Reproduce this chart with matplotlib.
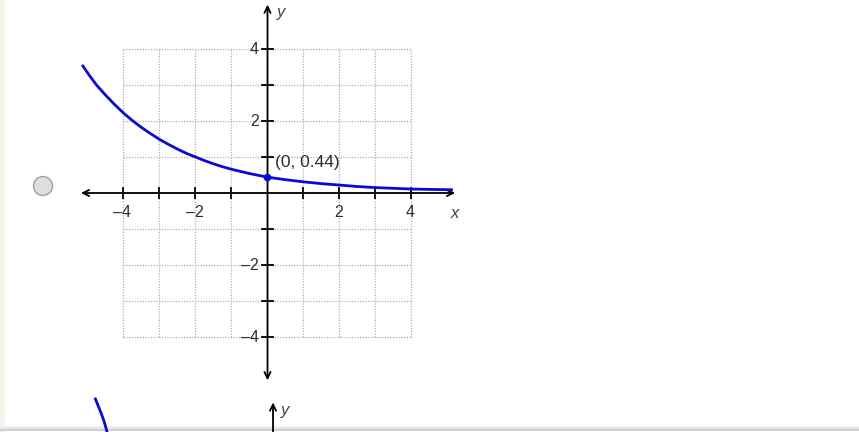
import matplotlib
matplotlib.use("Agg")
import matplotlib.pyplot as plt
from matplotlib.patches import Circle, Rectangle

# curve values
curve_x = [-5.15, -4.95, -4.75, -4.5, -4.25, -4.0, -3.75, -3.5, -3.25, -3.0, -2.75,
           -2.5, -2.25, -2.0, -1.75, -1.5, -1.25, -1.0, -0.5, 0.0,
           0.5, 1.0, 1.5, 2.0, 2.5, 3.0, 3.5, 4.0, 4.5, 5.15]
curve_y = [3.56, 3.27, 3.0, 2.72, 2.46, 2.22, 2.01, 1.82, 1.65, 1.49, 1.35,
           1.22, 1.10, 1.0, 0.90, 0.81, 0.73, 0.66, 0.54, 0.44,
           0.37, 0.31, 0.26, 0.22, 0.18, 0.15, 0.13, 0.11, 0.10, 0.09]
point = (0, 0.44)
point_label = "(0, 0.44)"
tick_vals = [-4, -3, -2, -1, 1, 2, 3, 4]
labelled = [-4, -2, 2, 4]

# piece of the next answer's graph showing at the bottom edge
next_curve_x = [-4.78, -4.70, -4.62, -4.54, -4.45]
next_curve_y = [-5.72, -5.92, -6.12, -6.34, -6.66]

UNIT = 36.0      # pixels per unit
OX, OY = 267.5, 193.0
W, H = 859, 432

fig = plt.figure(figsize=(W / 100, H / 100), dpi=100)
ax = fig.add_axes([0, 0, 1, 1])
ax.set_xlim(-OX / UNIT, (W - OX) / UNIT)
ax.set_ylim((OY - H) / UNIT, OY / UNIT)
ax.axis("off")

font = "Liberation Sans"
txt_col = "#2e2e2e"

# page decorations
ax.add_patch(Rectangle((-OX / UNIT, (OY - H) / UNIT), 5 / UNIT, H / UNIT,
                       color="#f3f3ea", lw=0, zorder=0))
for i, c in enumerate(["#f4f4f4", "#ececec", "#e2e2e2", "#d6d6d6", "#cccccc"]):
    ax.add_patch(Rectangle((-OX / UNIT, (OY - 427 - i) / UNIT), W / UNIT, 1 / UNIT,
                           color=c, lw=0, zorder=0))
ax.add_patch(Circle((-224.5 / UNIT, 7 / UNIT), 9.5 / UNIT, facecolor="#dedede",
                    edgecolor="#a0a0a0", lw=1.0, zorder=3))

# dotted grid
for v in range(-4, 5):
    ax.plot([v, v], [-4, 4], ls=(0, (1, 1.2)), color="#b0b0b0", lw=0.9, zorder=1)
    ax.plot([-4, 4], [v, v], ls=(0, (1, 1.2)), color="#b0b0b0", lw=0.9, zorder=1)

# axes with arrows
arrow = dict(arrowstyle="<->,head_length=0.45,head_width=0.22", color="black", lw=1.3)
ax.annotate("", xy=(-5.26, 0), xytext=(5.29, 0), arrowprops=arrow, zorder=2)
ax.annotate("", xy=(0, -5.28), xytext=(0, 5.31), arrowprops=arrow, zorder=2)

for t in tick_vals:
    ax.plot([t, t], [-0.15, 0.15], color="black", lw=1.3, zorder=2)
    ax.plot([-0.15, 0.15], [t, t], color="black", lw=1.3, zorder=2)

for t in labelled:
    lab = str(t).replace("-", "\u2013")
    ax.text(t - 0.03, -0.54, lab, ha="center", va="center", fontsize=11.5,
            family=font, color=txt_col, zorder=4)
    ax.text(-0.24, t, lab, ha="right", va="center", fontsize=11.5,
            family=font, color=txt_col, zorder=4)

ax.text(5.2, -0.56, "x", ha="center", va="center", fontsize=12, style="italic",
        family=font, color="#444444")
ax.text(0.37, 5.02, "y", ha="center", va="center", fontsize=12, style="italic",
        family=font, color="#444444")

# function curve and labelled point
ax.plot(curve_x, curve_y, color="#0a0ad2", lw=2.0, solid_capstyle="butt", zorder=5)
ax.plot(*point, "o", color="#0a0ad2", ms=4.5, zorder=6)
ax.text(0.2, 0.84, point_label, ha="left", va="center", fontsize=12.5,
        family=font, color=txt_col, zorder=4)

# next graph peeking in at the bottom
ax.annotate("", xy=(0.153, -5.74), xytext=(0.153, -6.7),
            arrowprops=dict(arrowstyle="->,head_length=0.45,head_width=0.22",
                            color="black", lw=1.3), zorder=2)
ax.text(0.5, -6.03, "y", ha="center", va="center", fontsize=12, style="italic",
        family=font, color="#444444")
ax.plot(next_curve_x, next_curve_y, color="#0a0ad2", lw=2.0, zorder=5)

fig.savefig("out.png", dpi=100)
plt.close(fig)
